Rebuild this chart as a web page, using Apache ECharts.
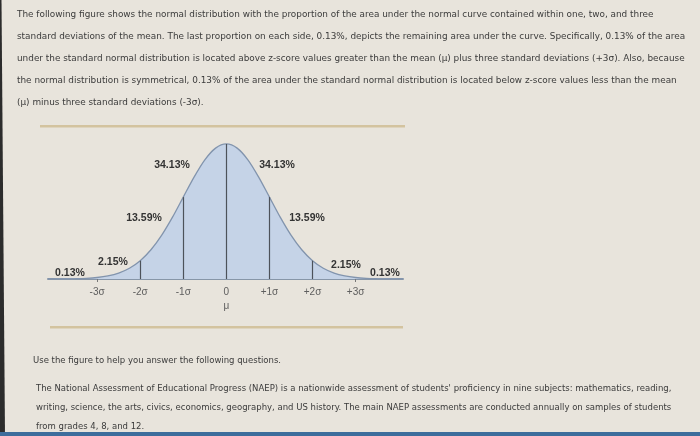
<!DOCTYPE html>
<html>
<head>
<meta charset="utf-8">
<script src="https://cdn.jsdelivr.net/npm/echarts@6/dist/echarts.min.js"></script>
<style>html,body{margin:0;padding:0;background:#e8e4dc;}#c{width:700px;height:436px;}</style>
</head>
<body>
<div id="c"></div>
<script>
// ---- data ----
const introLines = [
  "The following figure shows the normal distribution with the proportion of the area under the normal curve contained within one, two, and three",
  "standard deviations of the mean. The last proportion on each side, 0.13%, depicts the remaining area under the curve. Specifically, 0.13% of the area",
  "under the standard normal distribution is located above z-score values greater than the mean (\u03bc) plus three standard deviations (+3\u03c3). Also, because",
  "the normal distribution is symmetrical, 0.13% of the area under the standard normal distribution is located below z-score values less than the mean",
  "(\u03bc) minus three standard deviations (-3\u03c3)."
];
const questionLines = [
  "Use the figure to help you answer the following questions."
];
const naepLines = [
  "The National Assessment of Educational Progress (NAEP) is a nationwide assessment of students' proficiency in nine subjects: mathematics, reading,",
  "writing, science, the arts, civics, economics, geography, and US history. The main NAEP assessments are conducted annually on samples of students",
  "from grades 4, 8, and 12."
];
// curve: z-scores and curve heights
const curveZ = [-4.14,-4,-3.75,-3.5,-3.25,-3,-2.75,-2.5,-2.25,-2,-1.75,-1.5,-1.25,-1,-0.75,-0.5,-0.25,0,0.25,0.5,0.75,1,1.25,1.5,1.75,2,2.25,2.5,2.75,3,3.25,3.5,3.75,4,4.1];
const curveHeight = [0.0001,0.0001,0.0004,0.0009,0.0020,0.0044,0.0091,0.0175,0.0317,0.0540,0.0863,0.1295,0.1826,0.2420,0.3011,0.3521,0.3867,0.3989,0.3867,0.3521,0.3011,0.2420,0.1826,0.1295,0.0863,0.0540,0.0317,0.0175,0.0091,0.0044,0.0020,0.0009,0.0004,0.0001,0.0001];
// dividers
const dividerZ = [-2,-1,0,1,2];
const dividerHeight = [0.0540,0.2420,0.3989,0.2420,0.0540];
// tick labels
const tickZ = [-3,-2,-1,0,1,2,3];
const tickLabels = ["-3\u03c3","-2\u03c3","-1\u03c3","0\n\u03bc","+1\u03c3","+2\u03c3","+3\u03c3"];
const sigma3Ticks = [-3,3];
// area proportions (left to right)
const areaLabels = ["0.13%","2.15%","13.59%","34.13%","34.13%","13.59%","2.15%","0.13%"];

// ---- layout ----
const labelPos = [[70,273],[113,262],[144,218],[172,165],[277,165],[307,218],[346,265],[385,273]];
const topFont = '8.9px "DejaVu Sans"';
const bottomFont = '8.5px "DejaVu Sans"';
const graphics = [];
introLines.forEach((t,i)=>graphics.push({type:'text',silent:true,style:{text:t,x:17,y:15+i*22,font:topFont,fill:'#3b3b3b',verticalAlign:'middle'}}));
questionLines.forEach((t,i)=>graphics.push({type:'text',silent:true,style:{text:t,x:33,y:361,font:bottomFont,fill:'#3b3b3b',verticalAlign:'middle'}}));
naepLines.forEach((t,i)=>graphics.push({type:'text',silent:true,style:{text:t,x:36,y:389+i*19,font:bottomFont,fill:'#3b3b3b',verticalAlign:'middle'}}));
areaLabels.forEach((t,i)=>graphics.push({type:'text',silent:true,style:{text:t,x:labelPos[i][0],y:labelPos[i][1],font:'bold 10.5px "Liberation Sans"',fill:'#333',align:'center',verticalAlign:'middle'}}));
// rules above & below the figure
graphics.push({type:'rect',silent:true,shape:{x:40,y:125,width:365,height:2.5},style:{fill:'#d3c39f'}});
graphics.push({type:'rect',silent:true,shape:{x:50,y:326,width:353,height:2.5},style:{fill:'#d3c39f'}});
// screen edges of the photo
graphics.push({type:'polygon',silent:true,shape:{points:[[0,0],[1.5,0],[5,436],[0,436]]},style:{fill:'#2c2c2c'}});
graphics.push({type:'rect',silent:true,shape:{x:0,y:432,width:700,height:4},style:{fill:'#3d6d9c'}});

const chart = echarts.init(document.getElementById('c'));
chart.setOption({
  backgroundColor:'#e8e4dc',
  animation:false,
  grid:{left:48,right:297,top:143.6,bottom:157},
  xAxis:{type:'value',min:-4.14,max:4.1,
    axisLine:{show:true,onZero:false,lineStyle:{color:'#8796a8',width:2}},
    splitLine:{show:false},
    axisTick:{show:true,customValues:sigma3Ticks,length:3,lineStyle:{color:'#777',width:1}},
    axisLabel:{show:true,customValues:tickZ,margin:6,color:'#5e5e5e',fontFamily:'Liberation Sans',fontSize:10,lineHeight:14,
      formatter:(v)=>tickLabels[tickZ.indexOf(v)]}
  },
  yAxis:{type:'value',min:0,max:0.4,show:false},
  series:[{
    type:'line',
    data:curveZ.map((z,i)=>[z,curveHeight[i]]),
    smooth:0.3,
    showSymbol:false,
    silent:true,
    lineStyle:{color:'#8294ad',width:1.3},
    areaStyle:{color:'#c5d3e7',opacity:1},
    markLine:{silent:true,symbol:['none','none'],label:{show:false},
      lineStyle:{color:'#4d525a',width:1.2,type:'solid'},
      data:dividerZ.map((z,i)=>[{coord:[z,0]},{coord:[z,dividerHeight[i]]}])}
  }],
  graphic:graphics
});
</script>
</body>
</html>
